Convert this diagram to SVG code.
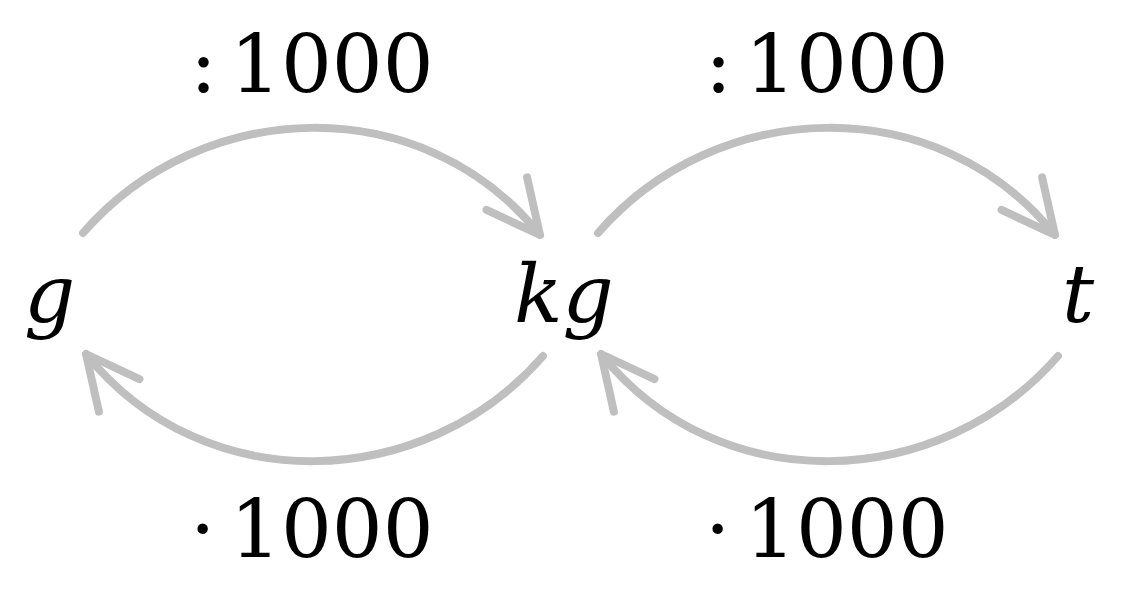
<svg xmlns="http://www.w3.org/2000/svg" width="1140" height="596" viewBox="0 0 1140 596">
<style>
.arc{fill:none;stroke:#bfbfbf;stroke-width:8;stroke-linecap:round;marker-end:url(#ah)}
.var{font-family:"DejaVu Serif",serif;font-style:italic;font-size:80px;fill:#000}
.num{font-family:"DejaVu Serif",serif;font-size:80px;fill:#000}
</style>
<defs>
<marker id="ah" markerUnits="userSpaceOnUse" viewBox="-60 -32 64 64" refX="0" refY="0" markerWidth="64" markerHeight="64" orient="auto">
<path d="M-53,-26 L0,0 L-53,26" fill="none" stroke="#bfbfbf" stroke-width="8" stroke-linecap="round" stroke-linejoin="round"/>
</marker>
</defs>
<rect width="1140" height="596" fill="#fff"/>
<g id="connectors">
<path class="arc" d="M83,233 C201,97 422,88 540,235"/>
<path class="arc" d="M543,356 C425,492 204,501 86,354"/>
<path class="arc" d="M598,233 C716,97 937,88 1055,235"/>
<path class="arc" d="M1058,356 C940,492 719,501 601,354"/>
</g>
<g id="node-g"><text class="var" x="24" y="322">g</text></g>
<g id="node-kg"><text class="var" x="514" y="322">kg</text></g>
<g id="node-t"><text class="var" x="1062" y="322">t</text></g>
<g id="label-top-1"><text class="num" y="92"><tspan x="190">:</tspan><tspan x="230">1000</tspan></text></g>
<g id="label-bottom-1"><text class="num" y="557"><tspan x="190">·</tspan><tspan x="230">1000</tspan></text></g>
<g id="label-top-2"><text class="num" y="92"><tspan x="705">:</tspan><tspan x="745">1000</tspan></text></g>
<g id="label-bottom-2"><text class="num" y="557"><tspan x="705">·</tspan><tspan x="745">1000</tspan></text></g>
</svg>
